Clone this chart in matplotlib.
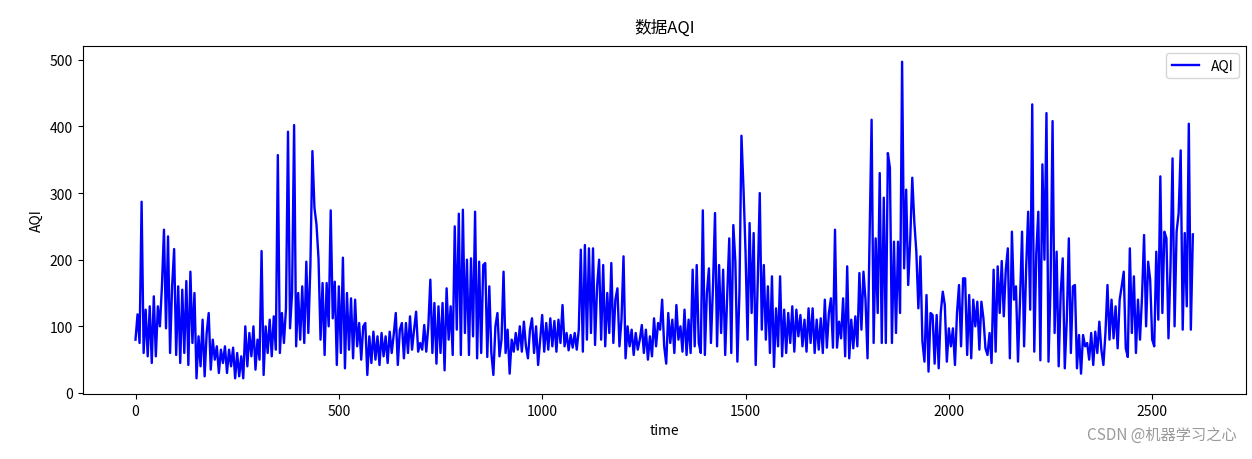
import numpy as np
import matplotlib
matplotlib.use("Agg")
import matplotlib.pyplot as plt

plt.rcParams['font.family'] = ['Noto Sans CJK SC', 'DejaVu Sans']
plt.rcParams['axes.unicode_minus'] = False

# AQI journalier, releve tous les 5 jours
pas = 5
aqi = [
    80, 118, 75, 287, 60, 125, 55, 130, 45, 145,
    55, 130, 100, 160, 245, 97, 235, 60, 160, 216,
    57, 160, 45, 155, 60, 168, 42, 182, 75, 150,
    22, 85, 40, 110, 25, 90, 120, 35, 80, 50,
    70, 30, 65, 45, 70, 30, 65, 40, 68, 22,
    60, 25, 55, 22, 100, 40, 90, 55, 100, 35,
    80, 50, 213, 27, 100, 60, 110, 55, 115, 65,
    357, 60, 120, 75, 127, 392, 97, 150, 402, 70,
    150, 80, 160, 75, 197, 90, 190, 363, 278, 253,
    202, 80, 165, 57, 165, 100, 274, 112, 167, 42,
    160, 60, 203, 37, 150, 65, 142, 52, 140, 70,
    105, 50, 100, 105, 27, 85, 45, 92, 50, 85,
    42, 90, 55, 85, 45, 92, 60, 88, 120, 42,
    95, 105, 52, 105, 60, 115, 65, 95, 122, 62,
    75, 65, 102, 62, 100, 170, 60, 135, 44, 130,
    60, 135, 34, 157, 80, 130, 57, 250, 95, 269,
    57, 275, 90, 200, 57, 202, 85, 272, 52, 197,
    60, 192, 195, 54, 160, 60, 27, 100, 120, 55,
    80, 182, 60, 95, 29, 80, 62, 90, 65, 100,
    62, 107, 70, 52, 95, 112, 60, 100, 42, 80,
    117, 62, 105, 65, 112, 70, 108, 62, 110, 75,
    132, 70, 90, 64, 87, 68, 90, 65, 95, 215,
    62, 222, 80, 217, 90, 217, 72, 160, 200, 80,
    192, 70, 150, 90, 195, 75, 140, 157, 70, 110,
    205, 52, 100, 70, 95, 57, 90, 65, 80, 102,
    60, 95, 50, 85, 55, 112, 70, 105, 95, 140,
    70, 44, 120, 75, 110, 60, 132, 80, 100, 62,
    125, 57, 110, 60, 185, 70, 192, 75, 60, 274,
    57, 150, 187, 75, 160, 270, 70, 192, 90, 185,
    57, 147, 232, 60, 252, 197, 47, 150, 386, 307,
    212, 80, 255, 120, 240, 42, 167, 300, 95, 192,
    80, 160, 60, 175, 39, 127, 70, 175, 55, 125,
    60, 120, 75, 130, 62, 125, 85, 117, 70, 110,
    62, 127, 75, 127, 60, 110, 65, 112, 60, 140,
    68, 120, 142, 68, 245, 68, 107, 82, 142, 55,
    190, 52, 110, 67, 115, 70, 180, 95, 182, 140,
    52, 227, 410, 75, 232, 120, 330, 75, 293, 75,
    360, 338, 75, 227, 90, 227, 120, 497, 187, 305,
    162, 230, 323, 257, 212, 127, 205, 77, 47, 147,
    32, 120, 117, 44, 117, 37, 120, 152, 132, 47,
    97, 70, 97, 42, 120, 162, 70, 172, 172, 57,
    147, 52, 140, 100, 137, 65, 137, 112, 67, 57,
    90, 45, 185, 62, 190, 120, 198, 115, 185, 217,
    52, 242, 140, 160, 47, 140, 242, 70, 187, 272,
    125, 433, 62, 210, 272, 49, 343, 200, 420, 47,
    160, 408, 90, 212, 40, 150, 202, 37, 110, 232,
    60, 160, 162, 37, 87, 29, 87, 70, 75, 50,
    90, 42, 92, 60, 107, 65, 42, 90, 162, 80,
    140, 82, 130, 67, 140, 160, 182, 67, 54, 217,
    90, 175, 60, 140, 80, 145, 237, 100, 197, 170,
    80, 70, 212, 110, 325, 120, 242, 232, 82, 190,
    352, 100, 242, 270, 364, 95, 240, 130, 404, 95,
    238,
]
temps = np.arange(len(aqi)) * pas

fig = plt.figure(figsize=(12.52, 4.6), dpi=100)
ax = fig.add_axes([0.066, 0.141, 0.929, 0.757])

ax.plot(temps, aqi, color="blue", linewidth=1.7, label="AQI")

ax.set_title("数据AQI", fontsize=12, pad=10)
ax.set_xlabel("time", fontsize=10)
ax.set_ylabel("AQI", fontsize=10)
ax.set_xticks([0, 500, 1000, 1500, 2000, 2500])
ax.set_yticks([0, 100, 200, 300, 400, 500])
ax.legend(loc="upper right", fontsize=10)

fig.text(0.988, 0.035, "CSDN @机器学习之心", ha="right", va="bottom",
         fontsize=11, color="#9a9a9a")

plt.savefig("out.png", dpi=100)
plt.close()
